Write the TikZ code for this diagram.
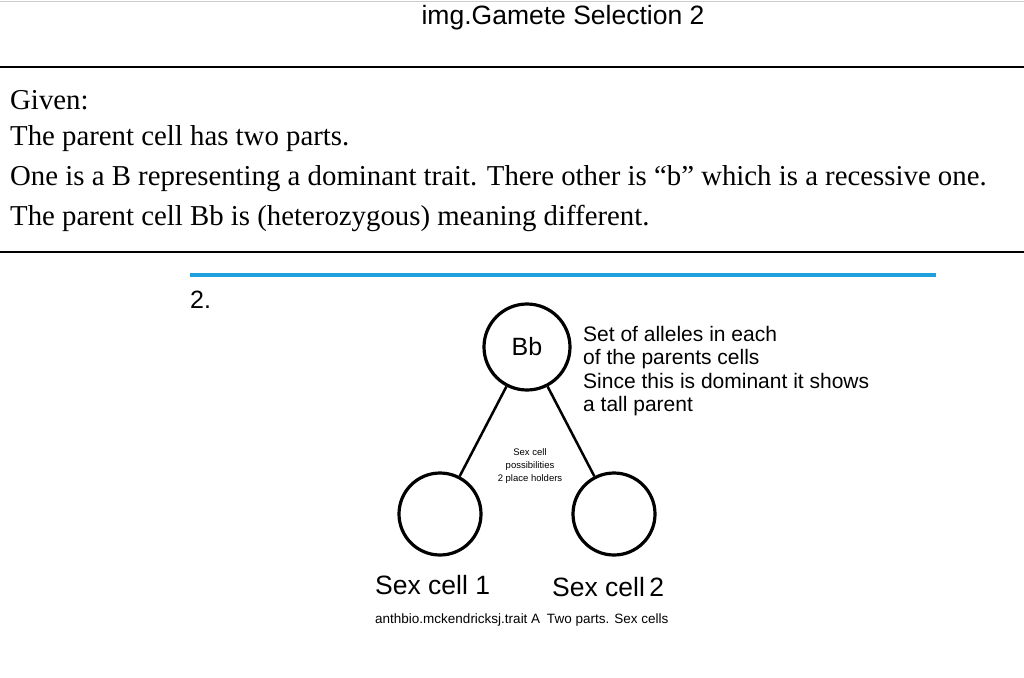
\documentclass[tikz,border=0pt]{standalone}
\usepackage{fontspec}
\setmainfont{Liberation Serif}
\newfontfamily\arialf{Liberation Sans}
\begin{document}
\begin{tikzpicture}[x=1pt,y=-1pt,
  cell/.style={draw,circle,line width=3.2pt,inner sep=0pt},
  lbl/.style={anchor=west,font=\arialf,inner sep=0pt},
  given/.style={anchor=west,inner sep=0pt,font=\fontsize{28.8}{32}\selectfont}]
\useasboundingbox (0,0) rectangle (1024,677);
\fill[white] (0,0) rectangle (1024,677);
\draw[gray!40] (0,1) -- (1024,1);
\node[font=\arialf\fontsize{26.5}{30}\selectfont] (title) at (563,18) {img.Gamete Selection 2};
\draw[line width=1.5pt] (0,67) -- (1024,67);
\draw[line width=1.5pt] (0,252) -- (1024,252);
\node[given] (g1) at (10,100) {Given:};
\node[given] (g2) at (10,139) {The parent cell has two parts.};
\node[given] (g3) at (10,179) {One is a B representing a dominant trait. There other is ``b'' which is a recessive one.};
\node[given] (g4) at (10,218) {The parent cell Bb is (heterozygous) meaning different.};
\draw[line width=4pt,color={rgb,255:red,30;green,160;blue,220}] (190,275) -- (936,275);
\node[lbl,font=\arialf\fontsize{25}{28}\selectfont] (n2) at (190,300) {2.};
\node[cell,minimum size=86pt,font=\arialf\fontsize{25}{28}\selectfont] (bb) at (527,347) {Bb};
\node[cell,minimum size=82pt] (c1) at (440,514) {};
\node[cell,minimum size=82pt] (c2) at (614,514) {};
\draw[line width=2.5pt] (bb) -- (c1);
\draw[line width=2.5pt] (bb) -- (c2);
\node[lbl,font=\arialf\fontsize{21}{23.5}\selectfont,align=left,anchor=north west] (set) at (583,326)
  {Set of alleles in each\\of the parents cells\\Since this is dominant it shows\\a tall parent};
\node[font=\arialf\fontsize{9.5}{13}\selectfont,align=center] (poss) at (530,466) {Sex cell\\possibilities\\2 place holders};
\node[lbl,font=\arialf\fontsize{26.5}{30}\selectfont] (s1) at (375,585) {Sex cell 1};
\node[lbl,font=\arialf\fontsize{26.5}{30}\selectfont] (s2) at (552,587) {Sex cell\,2};
\node[lbl,font=\arialf\fontsize{13.5}{15}\selectfont] (src) at (375,620) {anthbio.mckendricksj.trait A\enspace Two parts. Sex cells};
\end{tikzpicture}
\end{document}
